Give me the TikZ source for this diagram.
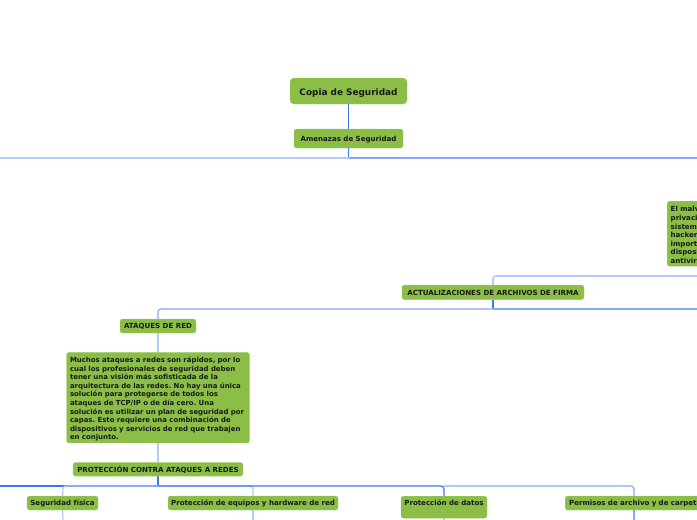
\documentclass[tikz,border=0pt]{standalone}
\usepackage{fontspec}
\usetikzlibrary{backgrounds}
\setmainfont{DejaVu Sans}
\frenchspacing
\definecolor{topicgreen}{HTML}{8BBE47}
\definecolor{topicedge}{HTML}{A3CC6E}
\definecolor{linkdark}{HTML}{3F74F5}
\definecolor{linkmid}{HTML}{85A6FA}
\definecolor{linklight}{HTML}{B4C9FD}
\tikzset{
topic/.style={fill=topicgreen,draw=topicedge,line width=0.4pt,rounded corners=2.5pt,inner sep=0pt,font=\bfseries\fontsize{7.05}{8.6}\selectfont,text=black!90},
oneline/.style={text height=6.4pt,text depth=1pt},
link/.style={line width=1.2pt,rounded corners=3pt},
thicklink/.style={line width=1.7pt,rounded corners=3pt}
}
\begin{document}
\begin{tikzpicture}[x=1pt,y=-1pt]
\useasboundingbox (0,0) rectangle (697,520);
\coordinate (upL) at (0,158);
\coordinate (upM) at (348.5,158);
\coordinate (upR) at (697,158);
\coordinate (busL) at (158,309);
\coordinate (busM) at (493,309);
\coordinate (busR) at (697,309);
\coordinate (topM) at (493,276);
\coordinate (topR) at (697,276);
\coordinate (lowL) at (0,486);
\coordinate (lowM) at (158,486);
\coordinate (lowA) at (63,486);
\coordinate (lowB) at (253,486);
\coordinate (lowC) at (444,486);
\coordinate (lowD) at (634,486);
\coordinate (endA) at (63,520);
\coordinate (endB) at (253,520);
\coordinate (endC) at (444,520);
\coordinate (endD) at (634,520);
\node[topic,rounded corners=4pt,minimum width=117pt,minimum height=26pt,text height=9.4pt,text depth=1pt,font=\bfseries\fontsize{8.9}{10}\selectfont] (copia) at (348.5,91) {Copia de Seguridad};
\node[topic,oneline,minimum width=109pt,minimum height=19pt] (amenazas) at (348.5,138.5) {Amenazas de Seguridad};
\node[topic,oneline,minimum width=182pt,minimum height=14.5pt] (firma) at (493,292.3) {ACTUALIZACIONES DE ARCHIVOS DE FIRMA};
\node[topic,oneline,minimum width=76pt,minimum height=14pt] (ataques) at (158,326) {ATAQUES DE RED};
\node[topic,minimum width=183pt,minimum height=90.5pt,align=left,text width=176pt,font=\bfseries\fontsize{6.95}{8.6}\selectfont] (muchos) at (158,397.7) {\rule{0pt}{8.5pt}Muchos ataques a redes son rápidos, por lo\\cual los profesionales de seguridad deben\\tener una visión más sofisticada de la\\arquitectura de las redes. No hay una única\\solución para protegerse de todos los\\ataques de TCP/IP o de día cero. Una\\solución es utilizar un plan de seguridad por\\capas. Esto requiere una combinación de\\dispositivos y servicios de red que trabajen\\en conjunto.};
\node[topic,oneline,minimum width=170pt,minimum height=13.5pt] (proteccion) at (158,469.3) {PROTECCIÓN CONTRA ATAQUES A REDES};
\node[topic,oneline,minimum width=71pt,minimum height=14pt] (fisica) at (62.5,503) {Seguridad física};
\node[topic,oneline,minimum width=170pt,minimum height=14pt] (equipos) at (253,503) {Protección de equipos y hardware de red};
\node[topic,anchor=north,minimum width=86pt,inner ysep=3.3pt,text height=6.4pt,text depth=9pt] (datos) at (444,496) {Protección de datos};
\node[topic,oneline,anchor=west,minimum width=150pt,minimum height=14pt,text width=142pt,align=left] (permisos) at (565,503) {Permisos de archivo y de carpeta};
\node[topic,anchor=north west,minimum width=60pt,minimum height=65pt,text width=53pt,align=left] (malware) at (667,201) {\rule{0pt}{8pt}El malv\\privaci\\sistem\\hacker\\import\\disposi\\antivir};
\begin{scope}[on background layer]
\draw[link,linkdark] (copia) -- (amenazas);
\draw[link,linkdark] (amenazas) -- (upM);
\draw[thicklink,linklight] (upM) -- (upL);
\draw[thicklink,linkmid] (upM) -- (upR);
\draw[link,linkdark] (firma) -- (busM);
\draw[link,linkmid] (busM) -- (busL) -- (ataques);
\draw[link,linkmid] (busM) -- (busR);
\draw[thicklink,linklight] (firma) -- (topM) -- (topR);
\draw[link,linklight] (ataques) -- (muchos);
\draw[link,linklight] (muchos) -- (proteccion);
\draw[link,line width=1.5pt,linkdark] (proteccion) -- (lowM);
\draw[link,linkdark] (lowM) -- (lowL);
\draw[link,linklight] (lowM) -- (lowA) -- (fisica);
\draw[link,linklight] (lowM) -- (lowB) -- (equipos);
\draw[link,linkmid] (lowC) -- (lowD) -- (permisos.north -| lowD);
\draw[link,linkdark] (lowM) -- (lowC) -- (datos);
\draw[link,linklight] (fisica) -- (endA);
\draw[link,linklight] (equipos) -- (endB);
\draw[link,linklight] (datos) -- (endC);
\draw[link,linkmid] (permisos.south -| lowD) -- (endD);
\end{scope}
\end{tikzpicture}
\end{document}
